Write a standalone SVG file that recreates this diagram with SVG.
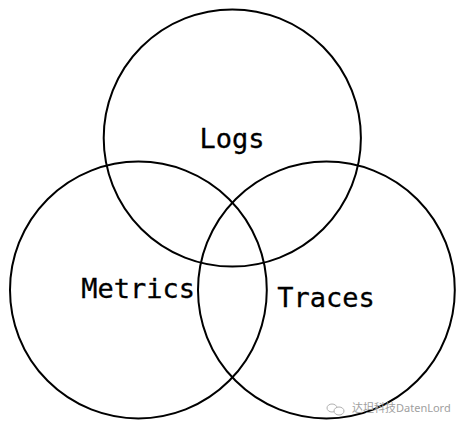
<svg xmlns="http://www.w3.org/2000/svg" width="464" height="429" viewBox="0 0 464 429">
<style>
.set{fill:none;stroke:#000;stroke-width:2}
.lbl{font-family:"DejaVu Sans Mono","Liberation Mono",monospace;font-size:27px;fill:#000;stroke:#000;stroke-width:0.3;text-anchor:middle}
.wm{font-family:"Noto Sans","Noto Sans CJK SC",sans-serif;font-size:11px;fill:#a0a0a0}
</style>
<rect width="464" height="429" fill="#fff"/>
<g id="logs">
<circle class="set" cx="232.3" cy="138" r="128.6"/>
<text class="lbl" x="232" y="147.5">Logs</text>
</g>
<g id="metrics">
<circle class="set" cx="138.4" cy="290" r="128.4"/>
<text class="lbl" x="138.2" y="297.5">Metrics</text>
</g>
<g id="traces">
<circle class="set" cx="326.4" cy="290" r="128.4"/>
<text class="lbl" x="326" y="306.5">Traces</text>
</g>
<g id="connectors"></g>
<g id="watermark">
<ellipse cx="332" cy="408" rx="5" ry="4" fill="none" stroke="#b0b0b0" stroke-width="1"/>
<ellipse cx="339" cy="411" rx="5" ry="4" fill="#fff" stroke="#b0b0b0" stroke-width="1"/>
<text class="wm" x="352" y="412">达坦科技DatenLord</text>
</g>
</svg>
